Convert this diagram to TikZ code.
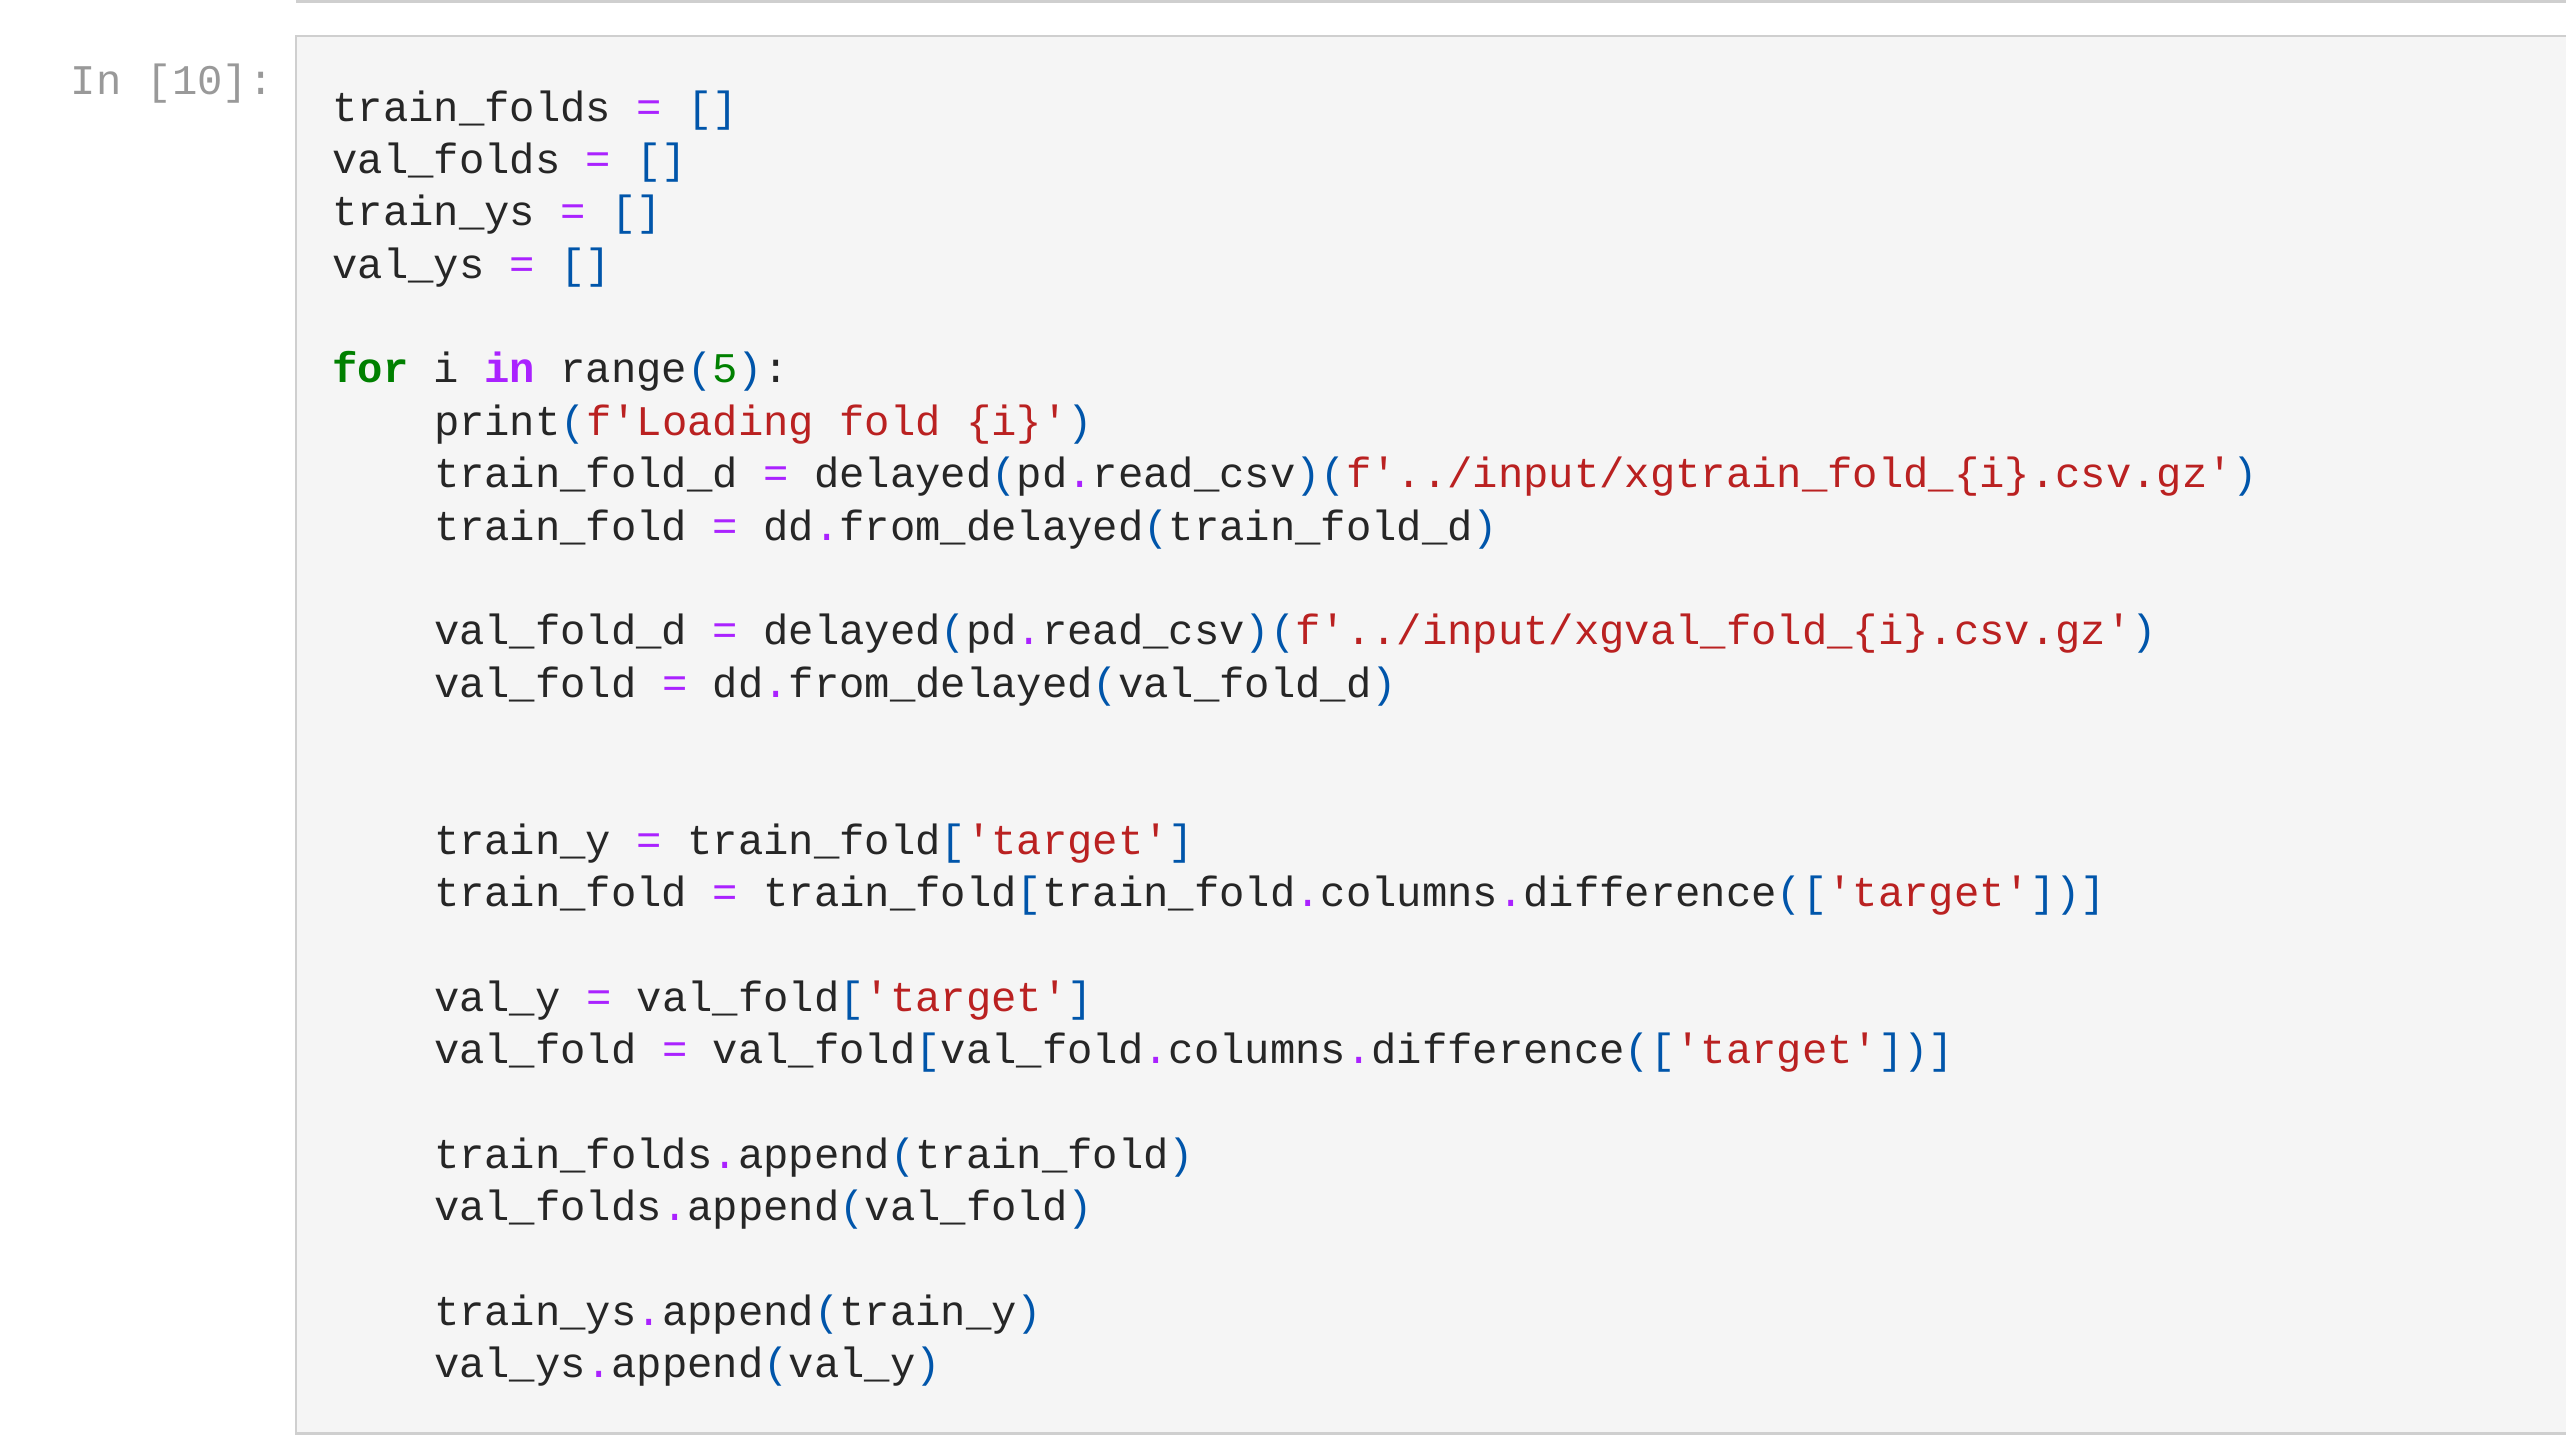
\documentclass[tikz,border=0pt]{standalone}
\usepackage{fontspec}
\newfontfamily\cf{Liberation Mono}
\definecolor{opc}{HTML}{AA22FF}
\definecolor{brc}{HTML}{0055AA}
\definecolor{stc}{HTML}{BA2121}
\definecolor{kwc}{HTML}{008000}
\definecolor{bgc}{HTML}{F5F5F5}
\definecolor{bdc}{HTML}{CFCFCF}
\newcommand\op[1]{\textcolor{opc}{#1}}
\newcommand\br[1]{\textcolor{brc}{#1}}
\newcommand\st[1]{\textcolor{stc}{#1}}
\newcommand\kw[1]{\textcolor{kwc}{\bfseries #1}}
\newcommand\kp[1]{\textcolor{opc}{\bfseries #1}}
\newcommand\nm[1]{\textcolor{kwc}{#1}}
\begin{document}
\begin{tikzpicture}[x=1pt,y=-1pt,
  code/.style={anchor=base west,inner sep=0pt,font=\cf\fontsize{25.8}{30}\selectfont,text=black!85}]
\useasboundingbox (0,0) rectangle (1568,889.7);
\draw[bdc,line width=2pt] (181,1) -- (1568,1);
\draw[fill=bgc,draw=bdc,line width=1.5pt] (181,22) rectangle (1580,876);
\node[code,text=black!40] (prompt) at (43,58) {In [10]:};
\def\A{203}\def\B{265}
\node[code] (l1) at (\A,74) {train\_folds \op{=} \br{[]}};
\node[code] (l2) at (\A,106) {val\_folds \op{=} \br{[]}};
\node[code] (l3) at (\A,138) {train\_ys \op{=} \br{[]}};
\node[code] (l4) at (\A,170) {val\_ys \op{=} \br{[]}};
\node[code] (l5) at (\A,234) {\kw{for} i \kp{in} range\br{(}\nm{5}\br{)}:};
\node[code] (l6) at (\B,266) {print\br{(}\st{f'Loading fold \{i\}'}\br{)}};
\node[code] (l7) at (\B,298) {train\_fold\_d \op{=} delayed\br{(}pd\op{.}read\_csv\br{)(}\st{f'../input/xgtrain\_fold\_\{i\}.csv.gz'}\br{)}};
\node[code] (l8) at (\B,330) {train\_fold \op{=} dd\op{.}from\_delayed\br{(}train\_fold\_d\br{)}};
\node[code] (l9) at (\B,394) {val\_fold\_d \op{=} delayed\br{(}pd\op{.}read\_csv\br{)(}\st{f'../input/xgval\_fold\_\{i\}.csv.gz'}\br{)}};
\node[code] (l10) at (\B,426) {val\_fold \op{=} dd\op{.}from\_delayed\br{(}val\_fold\_d\br{)}};
\node[code] (l11) at (\B,522) {train\_y \op{=} train\_fold\br{[}\st{'target'}\br{]}};
\node[code] (l12) at (\B,554) {train\_fold \op{=} train\_fold\br{[}train\_fold\op{.}columns\op{.}difference\br{([}\st{'target'}\br{])]}};
\node[code] (l13) at (\B,618) {val\_y \op{=} val\_fold\br{[}\st{'target'}\br{]}};
\node[code] (l14) at (\B,650) {val\_fold \op{=} val\_fold\br{[}val\_fold\op{.}columns\op{.}difference\br{([}\st{'target'}\br{])]}};
\node[code] (l15) at (\B,714) {train\_folds\op{.}append\br{(}train\_fold\br{)}};
\node[code] (l16) at (\B,746) {val\_folds\op{.}append\br{(}val\_fold\br{)}};
\node[code] (l17) at (\B,810) {train\_ys\op{.}append\br{(}train\_y\br{)}};
\node[code] (l18) at (\B,842) {val\_ys\op{.}append\br{(}val\_y\br{)}};
\end{tikzpicture}
\end{document}
